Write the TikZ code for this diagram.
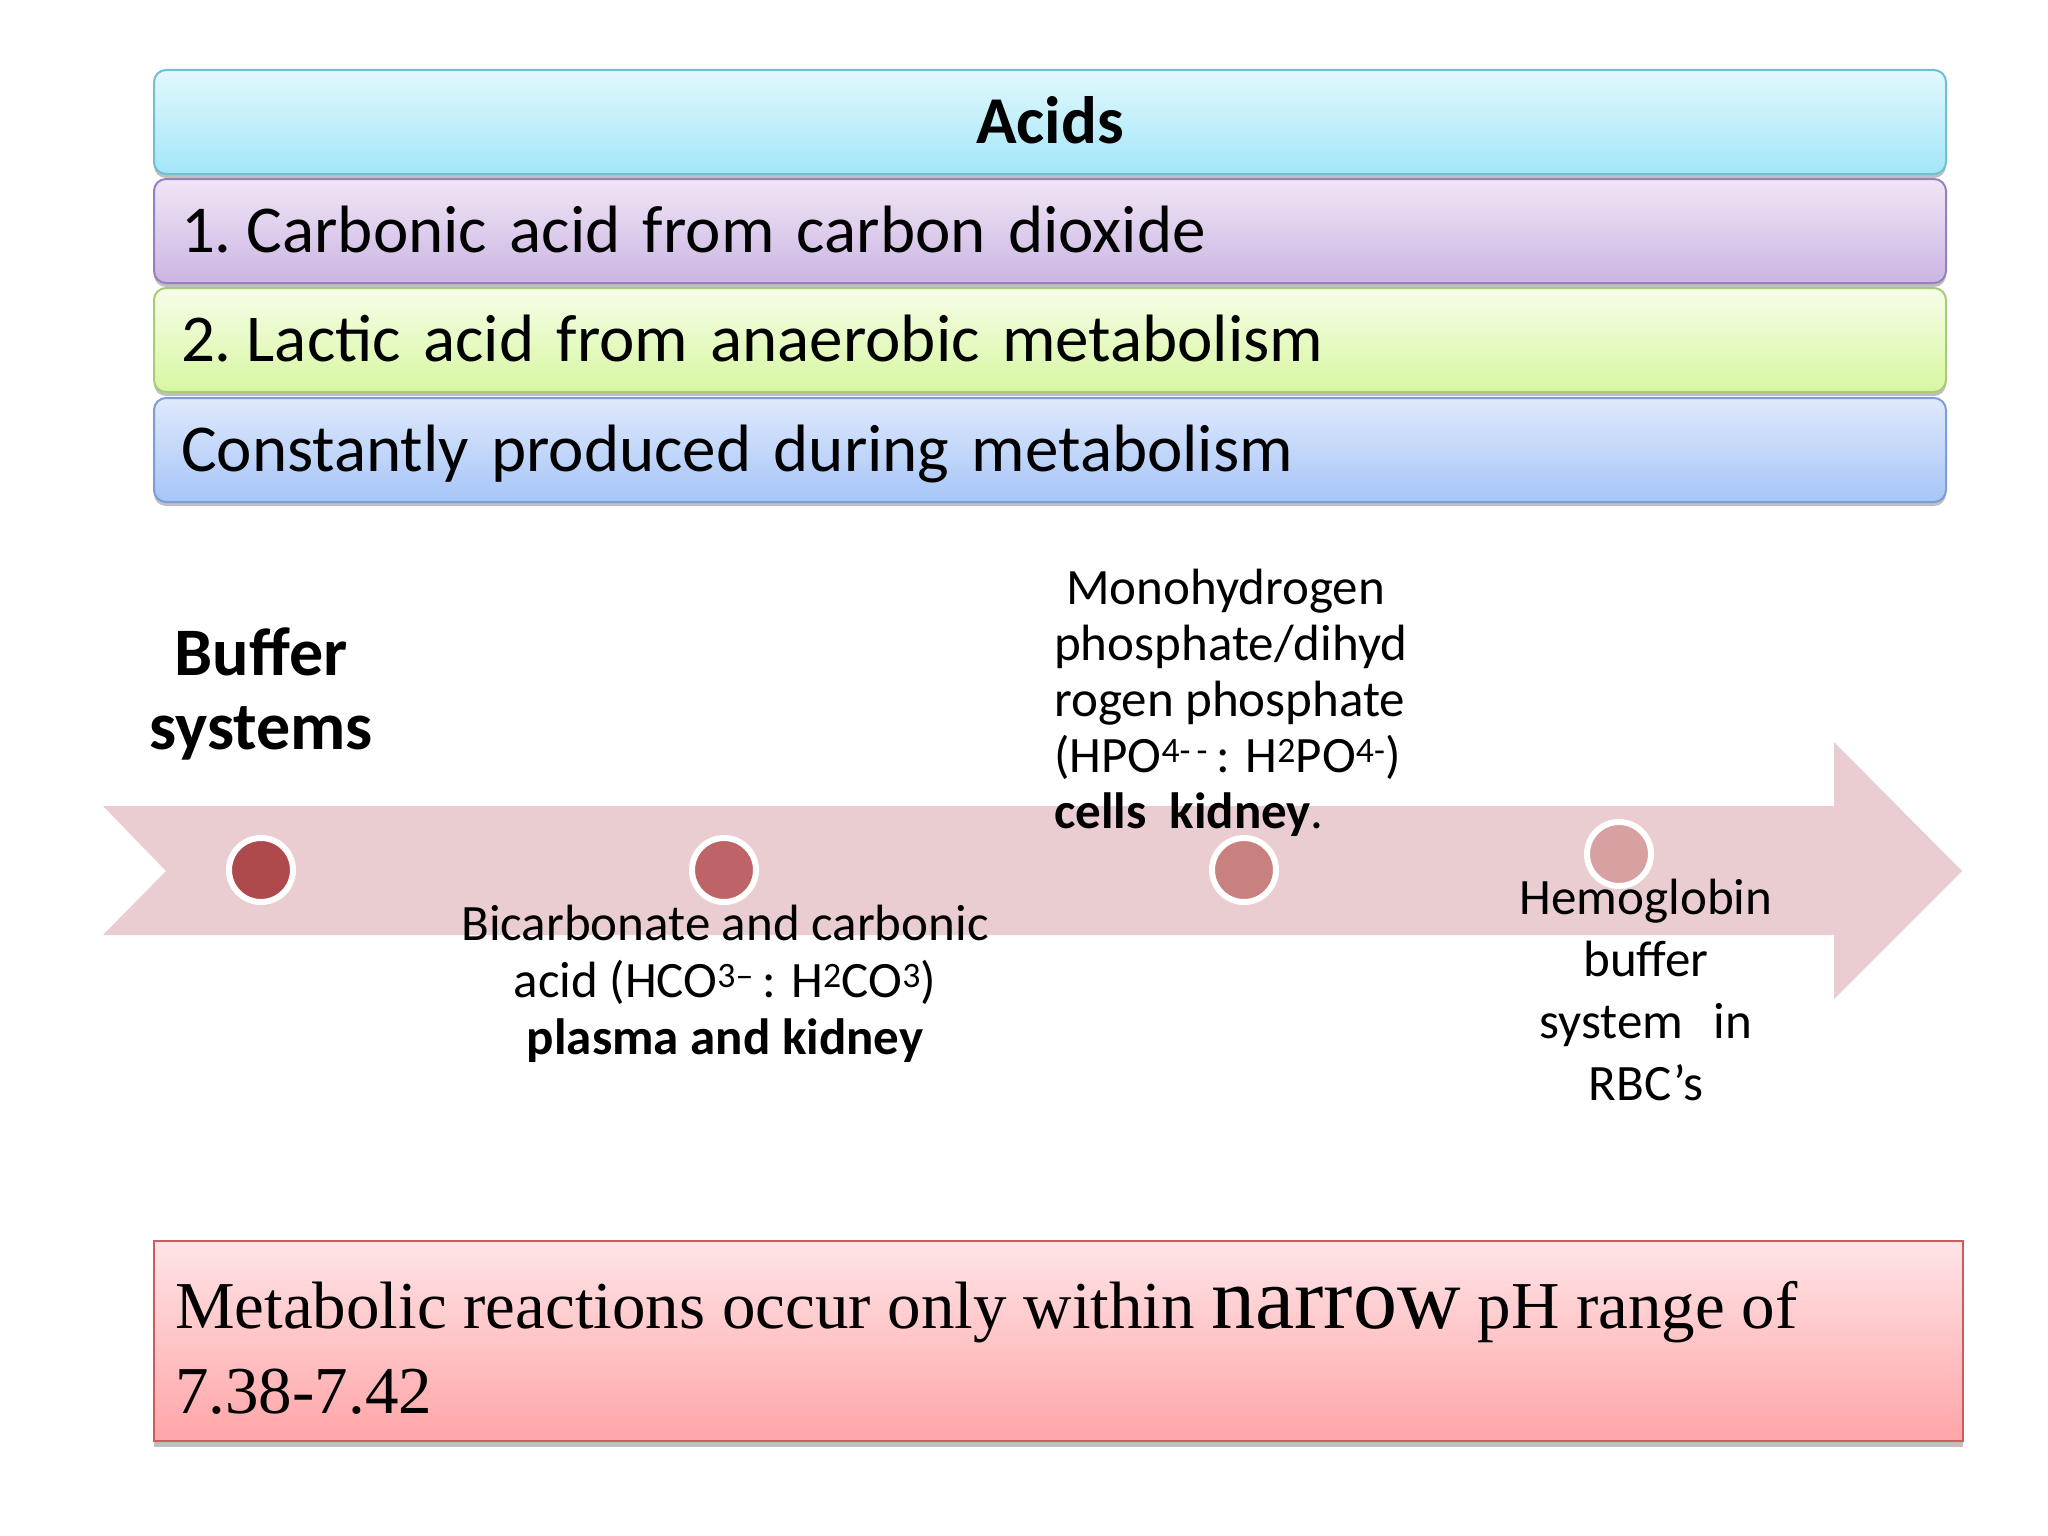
\documentclass[tikz,border=0pt]{standalone}
\usepackage{fontspec}
\setmainfont{Carlito}
\newfontfamily\timesf{Liberation Serif}
\usetikzlibrary{shadows}
\definecolor{aTop}{HTML}{E2F8FD}\definecolor{aBot}{HTML}{A3E6F8}\definecolor{aBrd}{HTML}{6FC0D2}
\definecolor{pTop}{HTML}{F0E6F6}\definecolor{pBot}{HTML}{CBB5E3}\definecolor{pBrd}{HTML}{9A7FBE}
\definecolor{gTop}{HTML}{F6FDE8}\definecolor{gBot}{HTML}{D7F7A0}\definecolor{gBrd}{HTML}{A6CC78}
\definecolor{bTop}{HTML}{DFE9FC}\definecolor{bBot}{HTML}{A6C5F8}\definecolor{bBrd}{HTML}{7D9DD6}
\definecolor{rTop}{HTML}{FFE4E7}\definecolor{rBot}{HTML}{FFA5A7}\definecolor{rBrd}{HTML}{CC5C5E}
\definecolor{arrowc}{HTML}{E9CDD1}
\definecolor{dotA}{HTML}{AE4A4C}\definecolor{dotB}{HTML}{BE6466}
\definecolor{dotC}{HTML}{C98180}\definecolor{dotD}{HTML}{D7A1A2}
\tikzset{
  acidbox/.style={draw=#1Brd, top color=#1Top, bottom color=#1Bot, line width=2pt,
    rounded corners=12pt, minimum width=1792pt, minimum height=104pt,
    text width=1738pt, inner xsep=27pt, inner ysep=0pt,
    text height=43pt, text depth=0pt, font=\fontsize{67}{80}\selectfont\frenchspacing,
    drop shadow={shadow xshift=0pt, shadow yshift=-4pt, opacity=0.25, fill=black}},
  dot/.style={circle, draw=white, line width=6pt, minimum size=64pt, inner sep=0pt},
  lbl/.style={inner sep=0pt},
}
\begin{document}
\begin{tikzpicture}[x=1pt,y=-1pt]
\useasboundingbox[fill=white] (0,0) rectangle (2048,1536);
% acid boxes
\node[acidbox=a, align=center, font=\fontsize{67}{80}\selectfont\bfseries] (acids) at (1050,122) {Acids};
\node[acidbox=p, align=left] (carb) at (1050,231) {1.\hspace{15pt}Carbonic acid from carbon dioxide};
\node[acidbox=g, align=left] (lact) at (1050,340) {2.\hspace{15pt}Lactic acid from anaerobic metabolism};
\node[acidbox=b, align=left] (const) at (1050,450) {Constantly produced during metabolism};
% arrow band
\fill[arrowc] (103,806) -- (1834,806) -- (1834,742) -- (1962,871) -- (1834,999)
  -- (1834,935) -- (103,935) -- (166,871) -- cycle;
% dots
\node[dot, fill=dotA] (d1) at (261,870) {};
\node[dot, fill=dotB] (d2) at (724,870) {};
\node[dot, fill=dotC] (d3) at (1244,870) {};
\node[dot, fill=dotD] (d4) at (1619,854) {};
% labels
\node[lbl, anchor=base, align=center, font=\fontsize{68}{74}\selectfont\bfseries] (buf) at (261,749)
  {Buffer\\systems};
\node[lbl, anchor=base, align=center, font=\fontsize{51}{57}\selectfont] (bic) at (725,1054)
  {Bicarbonate and carbonic\\acid (HCO\textsuperscript{3–}\,: H\textsuperscript{2}CO\textsuperscript{3})\\\textbf{plasma and kidney}};
\node[lbl, anchor=base west, align=left, font=\fontsize{51}{56}\selectfont] (mono) at (1054,828)
  {\hspace*{12pt}Monohydrogen\\phosphate/dihyd\\rogen phosphate\\(HPO\textsuperscript{4-\,-}\,: H\textsuperscript{2}PO\textsuperscript{4-})\\\textbf{cells\ \ kidney}.};
\node[lbl, anchor=base, align=center, font=\fontsize{51}{62}\selectfont] (hemo) at (1646,1100)
  {Hemoglobin\\buffer\\system\hspace{30pt}in\\RBC’s};
% bottom box
\node[draw=rBrd, line width=2pt, top color=rTop, bottom color=rBot, minimum width=1809pt,
  minimum height=200pt, inner sep=0pt,
  drop shadow={shadow xshift=0pt, shadow yshift=-6pt, opacity=0.25, fill=black}] (range) at (1058.5,1341) {};
\node[lbl, anchor=base west, align=left, font=\timesf\fontsize{67}{85}\selectfont] (rtext) at (175,1413)
  {Metabolic reactions occur only within {\fontsize{88}{85}\selectfont narrow} pH range of\\7.38-7.42};
\end{tikzpicture}
\end{document}
